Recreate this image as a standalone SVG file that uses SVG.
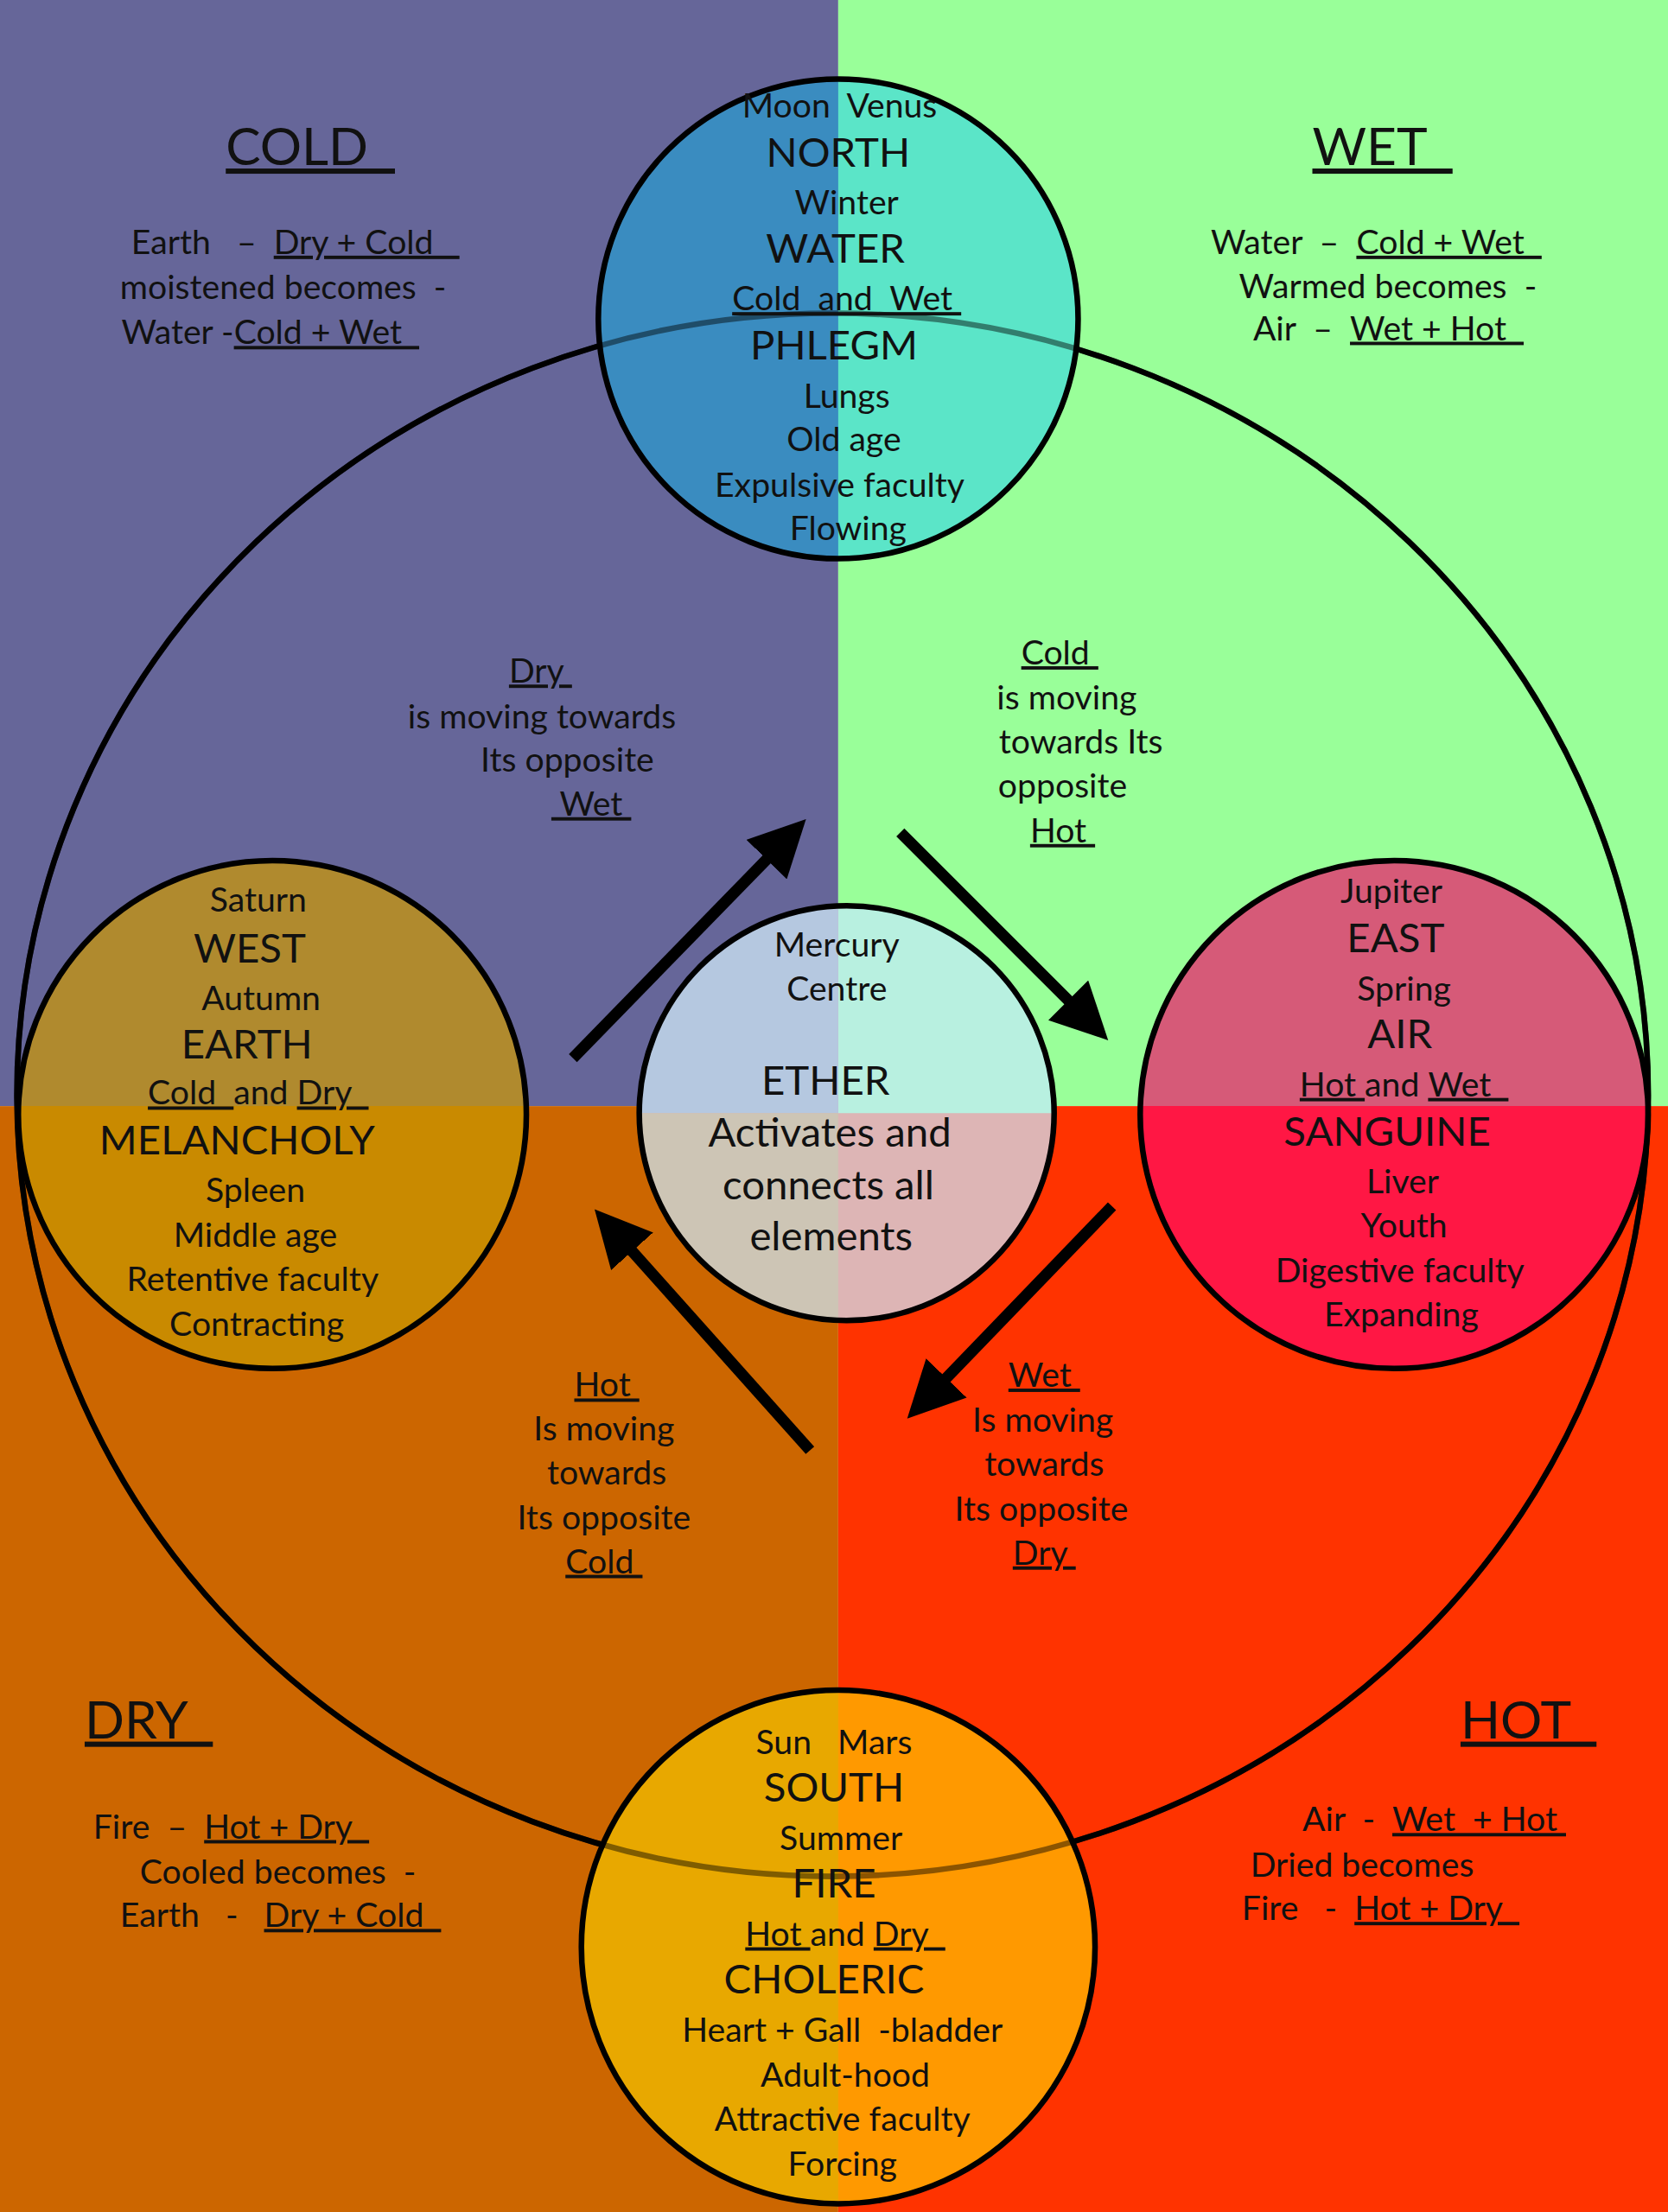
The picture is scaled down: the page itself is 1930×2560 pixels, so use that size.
<svg xmlns="http://www.w3.org/2000/svg" width="1930" height="2560" viewBox="0 0 1930 2560">
<style>
text{font-family:Lato,"Liberation Sans",sans-serif;font-size:24px;fill:#111;text-anchor:middle;white-space:pre}
.b{font-size:29px}
.h{font-size:37px;text-anchor:start;text-decoration:underline}
.s{text-anchor:start}
.u{text-decoration:underline}
.ring{fill:none;stroke:#000;stroke-width:4}
.ar{stroke:#000;stroke-width:8;fill:none;marker-end:url(#ah)}
</style>
<defs><marker id="ah" viewBox="0 0 10 10" refX="6" refY="5" markerWidth="5" markerHeight="5" orient="auto" markerUnits="strokeWidth"><path d="M0,0L10,5L0,10z" fill="#000"/></marker>
<clipPath id="L"><rect x="0" y="0" width="594" height="1600"/></clipPath>
<clipPath id="T"><rect x="0" y="0" width="1200" height="784"/></clipPath>
</defs>
<g transform="scale(1.6328)">
<g id="background">
<rect x="0" y="0" width="594" height="784" fill="#666699"/>
<rect x="594" y="0" width="600" height="784" fill="#99FF99"/>
<rect x="0" y="784" width="594" height="800" fill="#CC6600"/>
<rect x="594" y="784" width="600" height="800" fill="#FF3300"/>
<ellipse class="ring" cx="590" cy="776" rx="578" ry="554"/>
</g>
<g id="north"><circle cx="594" cy="226" r="170" fill="#5be5c8"/><circle cx="594" cy="226" r="170" fill="#3a8cc0" clip-path="url(#L)"/><circle class="ring" cx="594" cy="226" r="170"/></g>
<g id="west"><circle cx="193" cy="790" r="180" fill="#c98a00"/><circle cx="193" cy="790" r="180" fill="#b08a2e" clip-path="url(#T)"/><circle class="ring" cx="193" cy="790" r="180"/></g>
<g id="east"><circle cx="988" cy="790" r="180" fill="#ff1744"/><circle cx="988" cy="790" r="180" fill="#d65a78" clip-path="url(#T)"/><circle class="ring" cx="988" cy="790" r="180"/></g>
<g id="south"><circle cx="594" cy="1380" r="182" fill="#ff9900"/><circle cx="594" cy="1380" r="182" fill="#e8a800" clip-path="url(#L)"/><circle class="ring" cx="594" cy="1380" r="182"/></g>
<g id="centre"><circle cx="600" cy="789" r="147" fill="#ddb5b5"/>
<path d="M594,789V642A147,147 0 0 1 747,789Z" fill="#b8f0e0"/>
<path d="M594,789V642A147,147 0 0 0 453,789Z" fill="#b5c8e0"/>
<path d="M594,789V936A147,147 0 0 1 453,789Z" fill="#cdc5b5"/>
<circle class="ring" cx="600" cy="789" r="147"/></g>
<ellipse cx="590" cy="776" rx="578" ry="554" fill="none" stroke="#000" stroke-width="4" stroke-opacity="0.45"/>
<g id="connectors">
<path class="ar" d="M406,750L560,592"/>
<path class="ar" d="M638,590L774,726"/>
<path class="ar" d="M788,855L654,994"/>
<path class="ar" d="M574,1028L432,869"/>
</g>
<g id="north-text">
<text x="595" y="83">Moon  Venus</text><text class="b" x="594" y="118">NORTH</text><text x="600" y="152">Winter</text><text class="b" x="592" y="186">WATER</text>
<text x="600" y="220"><tspan class="u">Cold  and  Wet </tspan></text><text class="b" x="591" y="255">PHLEGM</text><text x="600" y="289">Lungs</text><text x="598" y="320">Old age</text><text x="595" y="352">Expulsive faculty</text><text x="601" y="383">Flowing</text>
</g>
<g id="west-text">
<text x="183" y="646">Saturn</text><text class="b" x="177" y="682">WEST</text><text x="185" y="716">Autumn</text><text class="b" x="175" y="750">EARTH</text>
<text x="183" y="783"><tspan class="u">Cold  </tspan>and <tspan class="u">Dry  </tspan></text><text class="b" x="168" y="818">MELANCHOLY</text><text x="181" y="852">Spleen</text><text x="181" y="884">Middle age</text><text x="179" y="915">Retentive faculty</text><text x="182" y="947">Contracting</text>
</g>
<g id="east-text">
<text x="986" y="640">Jupiter</text><text class="b" x="989" y="675">EAST</text><text x="995" y="709">Spring</text><text class="b" x="992" y="743">AIR</text>
<text x="995" y="777"><tspan class="u">Hot </tspan>and <tspan class="u">Wet  </tspan></text><text class="b" x="983" y="812">SANGUINE</text><text x="994" y="846">Liver</text><text x="995" y="877">Youth</text><text x="992" y="909">Digestive faculty</text><text x="993" y="940">Expanding</text>
</g>
<g id="south-text">
<text x="591" y="1243">Sun   Mars</text><text class="b" x="591" y="1277">SOUTH</text><text x="596" y="1311">Summer</text><text class="b" x="591" y="1345">FIRE</text>
<text x="599" y="1379"><tspan class="u">Hot </tspan>and <tspan class="u">Dry  </tspan></text><text class="b" x="584" y="1413">CHOLERIC</text><text x="597" y="1447">Heart + Gall  -bladder</text><text x="599" y="1479">Adult-hood</text><text x="597" y="1510">Attractive faculty</text><text x="597" y="1542">Forcing</text>
</g>
<g id="centre-text">
<text x="593" y="678">Mercury</text><text x="593" y="709">Centre</text><text class="b" x="585" y="776">ETHER</text><text class="b" x="588" y="813">Activates and</text><text class="b" x="587" y="850">connects all</text><text class="b" x="589" y="886">elements</text>
</g>
<g id="corners">
<text class="h" x="160" y="117">COLD  </text><text class="h" x="930" y="117">WET  </text><text class="h" x="60" y="1232">DRY  </text><text class="h" x="1035" y="1232">HOT  </text>
<text class="s" x="93" y="180">Earth   –  <tspan class="u">Dry + Cold   </tspan></text>
<text class="s" x="85" y="212">moistened becomes  -</text>
<text class="s" x="86" y="244">Water -<tspan class="u">Cold + Wet  </tspan></text>
<text class="s" x="858" y="180">Water  –  <tspan class="u">Cold + Wet  </tspan></text>
<text class="s" x="878" y="211">Warmed becomes  -</text>
<text class="s" x="888" y="241">Air  –  <tspan class="u">Wet + Hot  </tspan></text>
<text class="s" x="66" y="1303">Fire  –  <tspan class="u">Hot + Dry  </tspan></text>
<text class="s" x="99" y="1335">Cooled becomes  -</text>
<text class="s" x="85" y="1366">Earth   -   <tspan class="u">Dry + Cold  </tspan></text>
<text class="s" x="923" y="1298">Air  -  <tspan class="u">Wet  + Hot </tspan></text>
<text class="s" x="886" y="1330">Dried becomes</text>
<text class="s" x="880" y="1361">Fire   -  <tspan class="u">Hot + Dry  </tspan></text>
</g>
<g id="arrow-labels">
<text x="383" y="484"><tspan class="u">Dry </tspan></text><text x="384" y="516">is moving towards</text><text x="402" y="547">Its opposite</text><text x="419" y="578"><tspan class="u"> Wet </tspan></text>
<text x="751" y="471"><tspan class="u">Cold </tspan></text><text x="756" y="503">is moving</text><text x="766" y="534">towards Its</text><text x="753" y="565">opposite</text><text x="753" y="597"><tspan class="u">Hot </tspan></text>
<text x="430" y="990"><tspan class="u">Hot </tspan></text><text x="428" y="1021">Is moving</text><text x="430" y="1052">towards</text><text x="428" y="1084">Its opposite</text><text x="428" y="1115"><tspan class="u">Cold </tspan></text>
<text x="740" y="983"><tspan class="u">Wet </tspan></text><text x="739" y="1015">Is moving</text><text x="740" y="1046">towards</text><text x="738" y="1078">Its opposite</text><text x="740" y="1109"><tspan class="u">Dry </tspan></text>
</g>
</g>
</svg>
